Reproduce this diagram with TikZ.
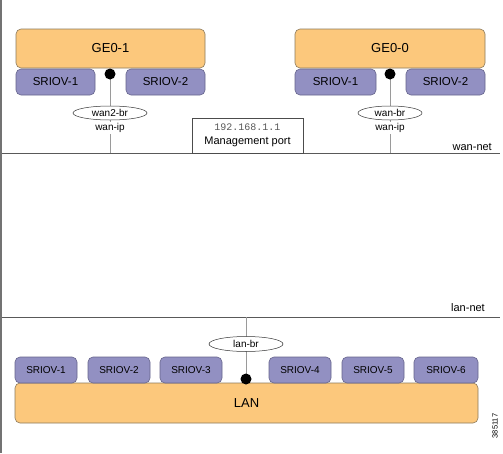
\documentclass[tikz,border=0pt]{standalone}
\usepackage{fontspec}
\setmainfont{Liberation Sans}
\setmonofont{Liberation Mono}
\usetikzlibrary{shapes.geometric,backgrounds}
\definecolor{orangefill}{HTML}{FCC87C}
\definecolor{orangeline}{HTML}{8C7A5C}
\definecolor{purplefill}{HTML}{9290C2}
\definecolor{purpleline}{HTML}{66658C}
\definecolor{connc}{HTML}{9A9A9A}
\tikzset{
  gebox/.style={draw=orangeline, fill=orangefill, rounded corners=5pt, inner sep=0pt, line width=0.6pt},
  srbox/.style={draw=purpleline, fill=purplefill, rounded corners=5pt, inner sep=0pt, minimum height=26pt, line width=0.6pt},
  brell/.style={ellipse, draw=black!80, fill=white, inner sep=0pt, font=\fontsize{10}{12}\selectfont, line width=0.5pt},
  dotn/.style={circle, fill=black, inner sep=0pt, minimum size=11pt},
  lbl/.style={font=\fontsize{11}{13}\selectfont, inner sep=1pt},
  conn/.style={draw=connc, line width=0.9pt},
  netline/.style={draw=black!65, line width=0.8pt}
}
\begin{document}
\begin{tikzpicture}[x=1pt,y=-1pt]
\useasboundingbox (0,0) rectangle (503,453);
\draw[draw=black!55, line width=1.5pt] (1,0) -- (1,453);
% top GE0-1
\node[gebox, minimum width=189pt, minimum height=39pt, font=\fontsize{13}{15}\selectfont] (ge01) at (110.5,48.5) {GE0-1};
\node[srbox, minimum width=79pt, font=\fontsize{11.5}{13}\selectfont] (s11) at (55.5,82) {SRIOV-1};
\node[srbox, minimum width=79pt, font=\fontsize{11.5}{13}\selectfont] (s12) at (165.5,82) {SRIOV-2};
\node[dotn] (d1) at (110,74) {};
\node[brell, minimum width=74pt, minimum height=14pt] (e1) at (110,113) {wan2-br};
\node[lbl, fill=white, font=\fontsize{10}{12}\selectfont] (ip1) at (110,128) {wan-ip};
% top GE0-0
\node[gebox, minimum width=190pt, minimum height=39pt, font=\fontsize{13}{15}\selectfont] (ge00) at (390,48.5) {GE0-0};
\node[srbox, minimum width=81pt, font=\fontsize{11.5}{13}\selectfont] (s01) at (335.5,82) {SRIOV-1};
\node[srbox, minimum width=79pt, font=\fontsize{11.5}{13}\selectfont] (s02) at (445.5,82) {SRIOV-2};
\node[dotn] (d0) at (390,74) {};
\node[brell, minimum width=64pt, minimum height=14pt] (e0) at (390,113) {wan-br};
\node[lbl, fill=white, font=\fontsize{10}{12}\selectfont] (ip0) at (390,128) {wan-ip};
% wan-net
\coordinate (wl) at (0,153);
\coordinate (wr) at (500,153);
\node[lbl, anchor=base east] (wnet) at (493,150) {wan-net};
\node[draw=black!70, fill=white, line width=0.5pt, minimum width=111pt, minimum height=35pt, inner sep=0pt, align=center, font=\fontsize{11}{14}\selectfont] (mgmt) at (247.5,135.5) {{\color{black!65}\ttfamily\fontsize{10}{14}\selectfont 192.168.1.1}\\Management port};
% lan-net
\coordinate (ll) at (0,317);
\coordinate (lr) at (500,317);
\node[lbl, anchor=base east] (lnet) at (486,311) {lan-net};
\node[brell, minimum width=74pt, minimum height=15pt] (el) at (246,344) {lan-br};
\node[gebox, minimum width=463pt, minimum height=40pt, font=\fontsize{13}{15}\selectfont] (lan) at (246.5,403) {LAN};
\node[srbox, minimum width=62pt, font=\fontsize{10}{12}\selectfont] (l1) at (46,370) {SRIOV-1};
\node[srbox, minimum width=62pt, font=\fontsize{10}{12}\selectfont] (l2) at (119,370) {SRIOV-2};
\node[srbox, minimum width=62pt, font=\fontsize{10}{12}\selectfont] (l3) at (191,370) {SRIOV-3};
\node[srbox, minimum width=62pt, font=\fontsize{10}{12}\selectfont] (l4) at (300,370) {SRIOV-4};
\node[srbox, minimum width=62pt, font=\fontsize{10}{12}\selectfont] (l5) at (373,370) {SRIOV-5};
\node[srbox, minimum width=64pt, font=\fontsize{10}{12}\selectfont] (l6) at (446,370) {SRIOV-6};
\node[dotn] (dl) at (246,379) {};
\node[rotate=90, font=\fontsize{7.5}{8}\selectfont, inner sep=0pt] (fig) at (495,426) {385117};
\begin{scope}[on background layer]
\fill[white] (0,0) rectangle (503,453);
\draw[netline] (wl) -- (wr);
\draw[netline] (ll) -- (lr);
\draw[conn] (d1.center) -- (d1.center |- wl);
\draw[conn] (d0.center) -- (d0.center |- wl);
\draw[conn] (dl.center) -- (dl.center |- ll);
\end{scope}
\end{tikzpicture}
\end{document}
